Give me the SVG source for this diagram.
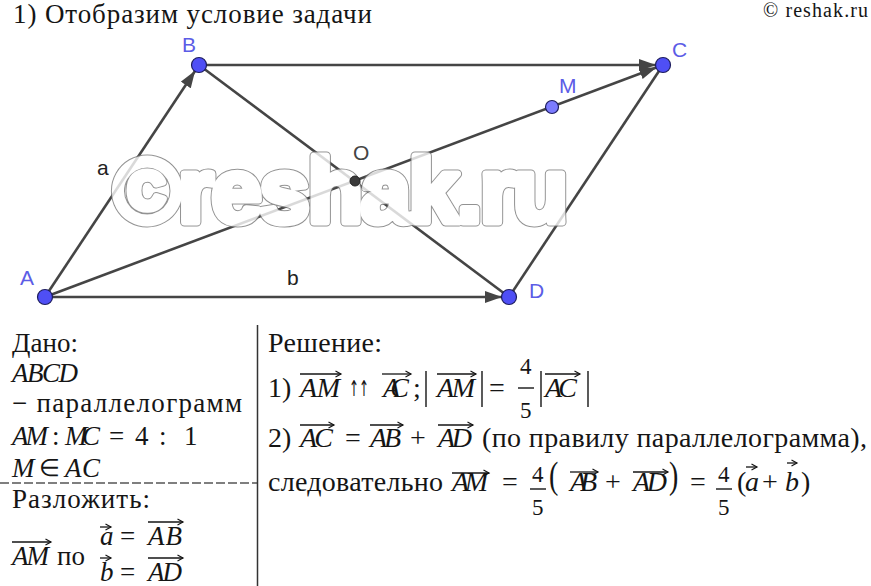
<svg xmlns="http://www.w3.org/2000/svg" width="871" height="586" viewBox="0 0 871 586">
<defs>
<style>
.t{font-family:"Liberation Serif","Times New Roman",serif;fill:#151515}
.s27{font-size:27px}
.s28{font-size:28px}
.fr{font-size:23px}
.i{font-style:italic}
.lbl{font-family:"Liberation Sans",Arial,sans-serif;font-size:21px;fill:#5c5ce6}
.lk{font-family:"Liberation Sans",Arial,sans-serif;font-size:21px;fill:#222}
.edge{stroke:#454545;stroke-width:2.6;fill:none}
.arr{marker-end:url(#ah)}
.vec{stroke:#151515;stroke-width:1.3;fill:none;marker-end:url(#vh)}
.bar{stroke:#151515;stroke-width:1.4}
.pt{fill:#4f4ff5;stroke:#1d1d5e;stroke-width:1.2}
.wm{font-family:"Liberation Sans",Arial,sans-serif;font-weight:bold;font-size:90px}
</style>
<marker id="ah" markerUnits="userSpaceOnUse" markerWidth="17" markerHeight="12" refX="24" refY="6" orient="auto">
<path d="M0,0 L17,6 L0,12 z" fill="#454545"/>
</marker>
<marker id="vh" markerUnits="userSpaceOnUse" markerWidth="8" markerHeight="8" refX="6.5" refY="4" orient="auto">
<path d="M1,1 L6.5,4 L1,7" fill="none" stroke="#151515" stroke-width="1.2"/>
</marker>
</defs>
<rect width="871" height="586" fill="#fff"/>

<text class="t" x="13" y="23" font-size="27" textLength="359">1) Отобразим условие задачи</text>
<text class="t" x="763" y="17" font-size="20" textLength="105">© reshak.ru</text>

<g id="connectors">
<line class="edge arr" x1="45" y1="297" x2="199" y2="65"/>
<line class="edge arr" x1="199" y1="65" x2="663" y2="65"/>
<line class="edge arr" x1="45" y1="297" x2="663" y2="65"/>
<line class="edge arr" x1="45" y1="297" x2="509" y2="297"/>
<line class="edge" x1="199" y1="65" x2="509" y2="297"/>
<line class="edge" x1="509" y1="297" x2="663" y2="65"/>
<text class="lk" x="97" y="175">a</text>
<text class="lk" x="287" y="285">b</text>
</g>

<g opacity="0.8">
<text class="wm" x="114" y="222" textLength="454" fill="none" stroke="#777" stroke-width="9" stroke-linejoin="round">©reshak.ru</text>
<text class="wm" x="114" y="222" textLength="454" fill="#fff" stroke="#fff" stroke-width="7" stroke-linejoin="round">©reshak.ru</text>
</g>

<g id="node-A"><circle class="pt" cx="45" cy="297" r="7.5"/><text class="lbl" x="20" y="285">A</text></g>
<g id="node-B"><circle class="pt" cx="199" cy="65" r="7.5"/><text class="lbl" x="182" y="52">B</text></g>
<g id="node-C"><circle class="pt" cx="663" cy="65" r="7.5"/><text class="lbl" x="672" y="57">C</text></g>
<g id="node-D"><circle class="pt" cx="509" cy="297" r="7.5"/><text class="lbl" x="529" y="298">D</text></g>
<g id="node-M"><circle cx="552" cy="107" r="6.5" fill="#7b7bff" stroke="#1d1d5e" stroke-width="1.2"/><text class="lbl" x="559" y="93">M</text></g>
<g id="node-O"><circle cx="355" cy="181" r="5" fill="#3a3a3a" stroke="#222" stroke-width="1"/><text x="353" y="160" font-family="Liberation Sans,Arial,sans-serif" font-size="21" fill="#444">O</text></g>

<g id="given">
<text class="t s27" x="12" y="352" textLength="66">Дано:</text>
<text class="t s27 i" x="12" y="382" textLength="66">ABCD</text>
<text class="t s27" x="12" y="412" textLength="230">− параллелограмм</text>
<text class="t s27 i" x="12" y="445" textLength="36">AM</text>
<text class="t s27" x="52" y="445">:</text>
<text class="t s27 i" x="65" y="445" textLength="35">MC</text>
<text class="t s27" x="109" y="445" textLength="18">=</text>
<text class="t s27" x="135" y="445">4</text>
<text class="t s27" x="159" y="445">:</text>
<text class="t s27" x="184" y="445">1</text>
<text class="t s27 i" x="12" y="477">M</text>
<text class="t" x="39" y="476" font-size="24">∈</text>
<text class="t s27 i" x="65" y="477" textLength="35">AC</text>
<line x1="0" y1="483" x2="257" y2="483" stroke="#555" stroke-width="1.5" stroke-dasharray="9 3"/>
<text class="t s27" x="12" y="508" textLength="138">Разложить:</text>
<text class="t s27 i" x="100" y="545" textLength="11">a</text>
<line class="vec" x1="100" y1="527" x2="111" y2="527"/>
<text class="t s27" x="120" y="545" textLength="18">=</text>
<text class="t s27 i" x="148" y="545" textLength="34">AB</text>
<line class="vec" x1="148" y1="522" x2="183" y2="522"/>
<text class="t s27 i" x="12" y="565" textLength="37">AM</text>
<line class="vec" x1="12" y1="542" x2="51" y2="542"/>
<text class="t s27" x="57" y="565">по</text>
<text class="t s27 i" x="100" y="581" textLength="11">b</text>
<line class="vec" x1="100" y1="558" x2="111" y2="558"/>
<text class="t s27" x="120" y="581" textLength="18">=</text>
<text class="t s27 i" x="148" y="581" textLength="34">AD</text>
<line class="vec" x1="148" y1="558" x2="183" y2="558"/>
</g>

<line x1="257.5" y1="325" x2="257.5" y2="586" stroke="#333" stroke-width="1.5"/>

<g id="solution">
<text class="t s28" x="268" y="352" textLength="114">Решение:</text>

<text class="t s28" x="268" y="397">1)</text>
<text class="t s28 i" x="300" y="397" textLength="40">AM</text>
<line class="vec" x1="300" y1="374" x2="341" y2="374"/>
<text x="349" y="396" font-family="DejaVu Sans, sans-serif" font-size="22" fill="#151515" textLength="20" lengthAdjust="spacingAndGlyphs">↑↑</text>
<text class="t s28 i" x="383" y="397" textLength="26">AC</text>
<line class="vec" x1="382" y1="374" x2="411" y2="374"/>
<text class="t s28" x="413" y="397">;</text>
<line class="bar" x1="426" y1="371" x2="426" y2="407"/>
<text class="t s28 i" x="437" y="397" textLength="38">AM</text>
<line class="vec" x1="437" y1="374" x2="476" y2="374"/>
<line class="bar" x1="482" y1="371" x2="482" y2="407"/>
<text class="t s28" x="489" y="397" textLength="18">=</text>
<text class="t fr" x="520" y="374">4</text>
<line class="bar" x1="518" y1="388" x2="534" y2="388"/>
<text class="t fr" x="520" y="418">5</text>
<line class="bar" x1="541" y1="371" x2="541" y2="407"/>
<text class="t s28 i" x="545" y="397" textLength="32">AC</text>
<line class="vec" x1="545" y1="374" x2="580" y2="374"/>
<line class="bar" x1="588" y1="371" x2="588" y2="407"/>

<text class="t s28" x="268" y="447">2)</text>
<text class="t s28 i" x="300" y="447" textLength="33">AC</text>
<line class="vec" x1="300" y1="425" x2="334" y2="425"/>
<text class="t s28" x="345" y="447" textLength="17">=</text>
<text class="t s28 i" x="370" y="447" textLength="31">AB</text>
<line class="vec" x1="370" y1="425" x2="403" y2="425"/>
<text class="t s28" x="410" y="447" textLength="16">+</text>
<text class="t s28 i" x="438" y="447" textLength="34">AD</text>
<line class="vec" x1="438" y1="425" x2="473" y2="425"/>
<text class="t s28" x="482" y="447" textLength="385">(по правилу параллелограмма),</text>

<text class="t s28" x="268" y="491" textLength="175">следовательно</text>
<text class="t s28 i" x="452" y="491" textLength="36">AM</text>
<line class="vec" x1="452" y1="473" x2="489" y2="473"/>
<text class="t s28" x="502" y="491" textLength="16">=</text>
<text class="t fr" x="532" y="482">4</text>
<line class="bar" x1="530" y1="489" x2="546" y2="489"/>
<text class="t fr" x="532" y="515">5</text>
<text class="t s28" transform="translate(549 488) scale(1 1.35)">(</text>
<text class="t s28 i" x="570" y="491" textLength="27">AB</text>
<line class="vec" x1="570" y1="472" x2="598" y2="472"/>
<text class="t s28" x="605" y="491" textLength="15">+</text>
<text class="t s28 i" x="633" y="491" textLength="34">AD</text>
<line class="vec" x1="633" y1="472" x2="668" y2="472"/>
<text class="t s28" transform="translate(669 488) scale(1 1.35)">)</text>
<text class="t s28" x="690" y="491" textLength="17">=</text>
<text class="t fr" x="718" y="482">4</text>
<line class="bar" x1="716" y1="489" x2="732" y2="489"/>
<text class="t fr" x="718" y="515">5</text>
<text class="t s28" x="737" y="491">(</text>
<text class="t s28 i" x="745" y="491" textLength="11">a</text>
<line class="vec" x1="746" y1="467" x2="757" y2="467"/>
<text class="t s28" x="762" y="491" textLength="15">+</text>
<text class="t s28 i" x="785" y="491" textLength="11">b</text>
<line class="vec" x1="787" y1="463" x2="797" y2="463"/>
<text class="t s28" x="801" y="491">)</text>
</g>
</svg>
